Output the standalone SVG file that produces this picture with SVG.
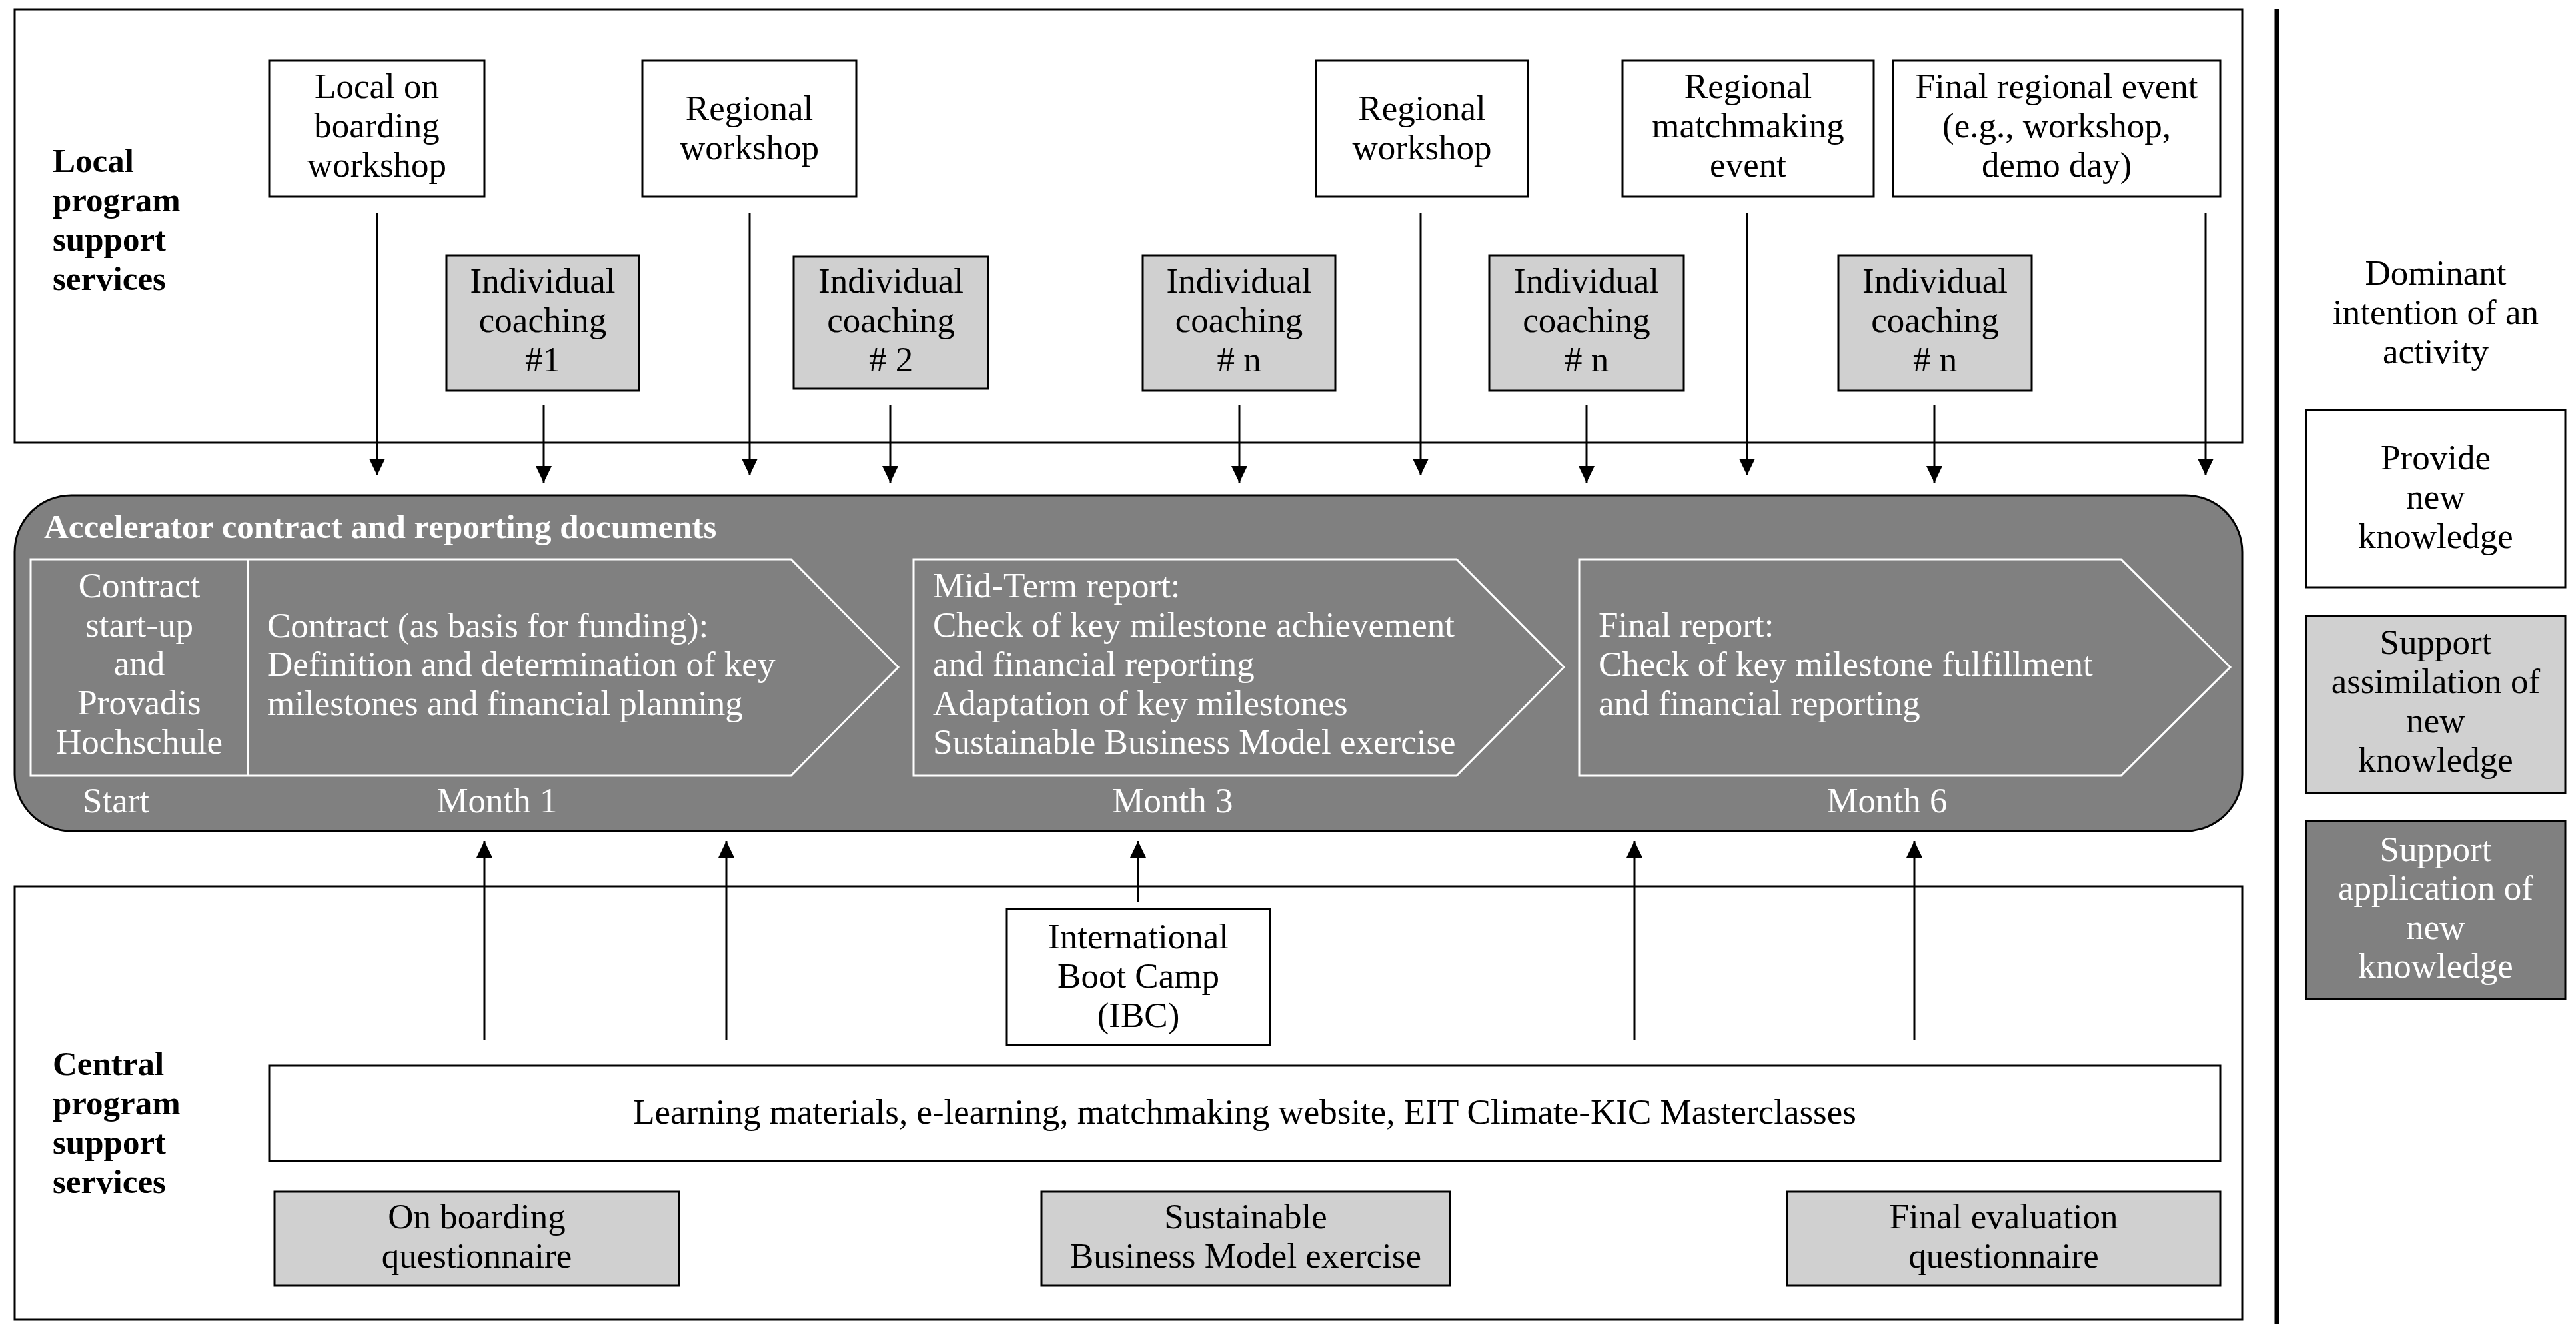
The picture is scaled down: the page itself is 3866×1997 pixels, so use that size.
<svg xmlns="http://www.w3.org/2000/svg" width="3866" height="1997" viewBox="0 0 3866 1997">
<defs>
<style>
text{font-family:"Liberation Serif","Times New Roman",serif;font-size:53px;fill:#000}
.c{text-anchor:middle}
.b{font-weight:bold;font-size:51px}
.w{fill:#fff}
.frame{fill:#fff;stroke:#000;stroke-width:3}
.wbox{fill:#fff;stroke:#000;stroke-width:3}
.gbox{fill:#d0d0d0;stroke:#000;stroke-width:3}
.dbox{fill:#808080;stroke:#000;stroke-width:3}
.chev{fill:none;stroke:#fff;stroke-width:3}
.conn{stroke:#000;stroke-width:3;fill:none}
</style>
<marker id="ah" markerUnits="userSpaceOnUse" markerWidth="25" markerHeight="24" refX="25" refY="12" orient="auto">
<path d="M0,0 L25,12 L0,24 Z" fill="#000"/>
</marker>
</defs>
<rect width="3866" height="1997" fill="#fff"/>

<g id="local-section">
<rect class="frame" x="22" y="14" width="3343" height="650"/>
<text class="b" x="79"><tspan x="79" y="258">Local</tspan><tspan x="79" y="317">program</tspan><tspan x="79" y="376">support</tspan><tspan x="79" y="435">services</tspan></text>
</g>

<g id="central-section">
<rect class="frame" x="22" y="1330" width="3343" height="650"/>
<text class="b" x="79"><tspan x="79" y="1613">Central</tspan><tspan x="79" y="1672">program</tspan><tspan x="79" y="1731">support</tspan><tspan x="79" y="1790">services</tspan></text>
</g>

<g id="n-local-onboarding">
<rect class="wbox" x="404" y="91" width="323" height="204"/>
<text class="c"><tspan x="565.5" y="147">Local on</tspan><tspan x="565.5" y="206">boarding</tspan><tspan x="565.5" y="265">workshop</tspan></text>
</g>
<g id="n-regional-workshop-1">
<rect class="wbox" x="964" y="91" width="321" height="204"/>
<text class="c"><tspan x="1124.5" y="180">Regional</tspan><tspan x="1124.5" y="239">workshop</tspan></text>
</g>
<g id="n-regional-workshop-2">
<rect class="wbox" x="1975" y="91" width="318" height="204"/>
<text class="c"><tspan x="2134" y="180">Regional</tspan><tspan x="2134" y="239">workshop</tspan></text>
</g>
<g id="n-regional-matchmaking">
<rect class="wbox" x="2435" y="91" width="377" height="204"/>
<text class="c"><tspan x="2623.5" y="147">Regional</tspan><tspan x="2623.5" y="206">matchmaking</tspan><tspan x="2623.5" y="265">event</tspan></text>
</g>
<g id="n-final-regional-event">
<rect class="wbox" x="2841" y="91" width="491" height="204"/>
<text class="c"><tspan x="3086.5" y="147">Final regional event</tspan><tspan x="3086.5" y="206">(e.g., workshop,</tspan><tspan x="3086.5" y="265">demo day)</tspan></text>
</g>

<g id="n-coaching-1">
<rect class="gbox" x="670" y="383" width="289" height="203"/>
<text class="c"><tspan x="814.5" y="439">Individual</tspan><tspan x="814.5" y="498">coaching</tspan><tspan x="814.5" y="557">#1</tspan></text>
</g>
<g id="n-coaching-2">
<rect class="gbox" x="1191" y="385" width="292" height="198"/>
<text class="c"><tspan x="1337" y="439">Individual</tspan><tspan x="1337" y="498">coaching</tspan><tspan x="1337" y="557"># 2</tspan></text>
</g>
<g id="n-coaching-n1">
<rect class="gbox" x="1715" y="383" width="289" height="203"/>
<text class="c"><tspan x="1859.5" y="439">Individual</tspan><tspan x="1859.5" y="498">coaching</tspan><tspan x="1859.5" y="557"># n</tspan></text>
</g>
<g id="n-coaching-n2">
<rect class="gbox" x="2235" y="383" width="292" height="203"/>
<text class="c"><tspan x="2381" y="439">Individual</tspan><tspan x="2381" y="498">coaching</tspan><tspan x="2381" y="557"># n</tspan></text>
</g>
<g id="n-coaching-n3">
<rect class="gbox" x="2759" y="383" width="290" height="203"/>
<text class="c"><tspan x="2904" y="439">Individual</tspan><tspan x="2904" y="498">coaching</tspan><tspan x="2904" y="557"># n</tspan></text>
</g>

<g id="n-accelerator">
<rect class="dbox" x="22" y="743" width="3343" height="504" rx="85" ry="85"/>
<text class="b w" x="66" y="807">Accelerator contract and reporting documents</text>
<path class="chev" d="M46,839 L1187,839 L1348,1001 L1187,1164 L46,1164 Z M372,839 L372,1164"/>
<text class="c w"><tspan x="209" y="896">Contract</tspan><tspan x="209" y="955">start-up</tspan><tspan x="209" y="1013">and</tspan><tspan x="209" y="1072">Provadis</tspan><tspan x="209" y="1131">Hochschule</tspan></text>
<text class="w"><tspan x="401" y="956">Contract (as basis for funding):</tspan><tspan x="401" y="1014">Definition and determination of key</tspan><tspan x="401" y="1073">milestones and financial planning</tspan></text>
<path class="chev" d="M1371,839 L2186,839 L2347,1001 L2186,1164 L1371,1164 Z"/>
<text class="w"><tspan x="1400" y="896">Mid-Term report:</tspan><tspan x="1400" y="955">Check of key milestone achievement</tspan><tspan x="1400" y="1014">and financial reporting</tspan><tspan x="1400" y="1073">Adaptation of key milestones</tspan><tspan x="1400" y="1131">Sustainable Business Model exercise</tspan></text>
<path class="chev" d="M2370,839 L3183,839 L3347,1001 L3183,1164 L2370,1164 Z"/>
<text class="w"><tspan x="2399" y="955">Final report:</tspan><tspan x="2399" y="1014">Check of key milestone fulfillment</tspan><tspan x="2399" y="1073">and financial reporting</tspan></text>
<text class="c w"><tspan x="174" y="1219">Start</tspan><tspan x="746" y="1219">Month 1</tspan><tspan x="1760" y="1219">Month 3</tspan><tspan x="2832" y="1219">Month 6</tspan></text>
</g>

<g id="n-ibc">
<rect class="wbox" x="1511" y="1364" width="395" height="204"/>
<text class="c"><tspan x="1708.5" y="1423">International</tspan><tspan x="1708.5" y="1482">Boot Camp</tspan><tspan x="1708.5" y="1541">(IBC)</tspan></text>
</g>
<g id="n-learning-materials">
<rect class="wbox" x="404" y="1599" width="2928" height="143"/>
<text class="c" x="1868" y="1686">Learning materials, e-learning, matchmaking website, EIT Climate-KIC Masterclasses</text>
</g>
<g id="n-onboarding-questionnaire">
<rect class="gbox" x="412" y="1788" width="607" height="141"/>
<text class="c"><tspan x="715.5" y="1843">On boarding</tspan><tspan x="715.5" y="1902">questionnaire</tspan></text>
</g>
<g id="n-sbm-exercise">
<rect class="gbox" x="1563" y="1788" width="613" height="141"/>
<text class="c"><tspan x="1869.5" y="1843">Sustainable</tspan><tspan x="1869.5" y="1902">Business Model exercise</tspan></text>
</g>
<g id="n-final-evaluation">
<rect class="gbox" x="2682" y="1788" width="650" height="141"/>
<text class="c"><tspan x="3007" y="1843">Final evaluation</tspan><tspan x="3007" y="1902">questionnaire</tspan></text>
</g>

<g id="legend">
<line x1="3417" y1="13" x2="3417" y2="1987" stroke="#000" stroke-width="7"/>
<text class="c"><tspan x="3655.5" y="427">Dominant</tspan><tspan x="3655.5" y="486">intention of an</tspan><tspan x="3655.5" y="545">activity</tspan></text>
<g id="legend-provide">
<rect class="wbox" x="3461" y="615" width="389" height="266"/>
<text class="c"><tspan x="3655.5" y="704">Provide</tspan><tspan x="3655.5" y="763">new</tspan><tspan x="3655.5" y="822">knowledge</tspan></text>
</g>
<g id="legend-assimilation">
<rect class="gbox" x="3461" y="924" width="389" height="266"/>
<text class="c"><tspan x="3655.5" y="981">Support</tspan><tspan x="3655.5" y="1040">assimilation of</tspan><tspan x="3655.5" y="1099">new</tspan><tspan x="3655.5" y="1158">knowledge</tspan></text>
</g>
<g id="legend-application">
<rect class="dbox" x="3461" y="1232" width="389" height="267"/>
<text class="c w"><tspan x="3655.5" y="1292">Support</tspan><tspan x="3655.5" y="1350">application of</tspan><tspan x="3655.5" y="1409">new</tspan><tspan x="3655.5" y="1467">knowledge</tspan></text>
</g>
</g>

<g id="connectors">
<line class="conn" x1="566" y1="320" x2="566" y2="713" marker-end="url(#ah)"/>
<line class="conn" x1="1125" y1="320" x2="1125" y2="713" marker-end="url(#ah)"/>
<line class="conn" x1="2132" y1="320" x2="2132" y2="713" marker-end="url(#ah)"/>
<line class="conn" x1="2622" y1="320" x2="2622" y2="713" marker-end="url(#ah)"/>
<line class="conn" x1="3310" y1="320" x2="3310" y2="713" marker-end="url(#ah)"/>
<line class="conn" x1="816" y1="608" x2="816" y2="724" marker-end="url(#ah)"/>
<line class="conn" x1="1336" y1="608" x2="1336" y2="724" marker-end="url(#ah)"/>
<line class="conn" x1="1860" y1="608" x2="1860" y2="724" marker-end="url(#ah)"/>
<line class="conn" x1="2381" y1="608" x2="2381" y2="724" marker-end="url(#ah)"/>
<line class="conn" x1="2903" y1="608" x2="2903" y2="724" marker-end="url(#ah)"/>
<line class="conn" x1="727" y1="1560" x2="727" y2="1262" marker-end="url(#ah)"/>
<line class="conn" x1="1090" y1="1560" x2="1090" y2="1262" marker-end="url(#ah)"/>
<line class="conn" x1="1708" y1="1354" x2="1708" y2="1262" marker-end="url(#ah)"/>
<line class="conn" x1="2453" y1="1560" x2="2453" y2="1262" marker-end="url(#ah)"/>
<line class="conn" x1="2873" y1="1560" x2="2873" y2="1262" marker-end="url(#ah)"/>
</g>
</svg>
